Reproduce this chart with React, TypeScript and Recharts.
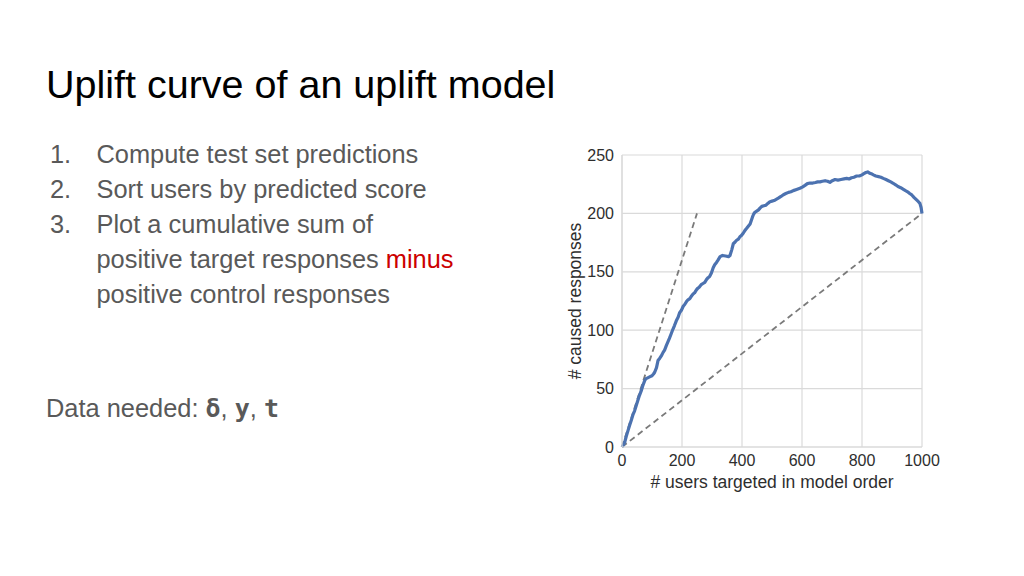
import React from 'react';
import { LineChart, Line, XAxis, YAxis, CartesianGrid } from 'recharts';

// Uplift curve (x = users targeted, y = caused responses)
const upliftX = [
  0, 5, 9, 14, 20, 26, 31, 37, 42, 48, 53, 58, 64, 70, 76, 80, 84, 92, 100, 105, 109,
  115, 120, 126, 131, 137, 142, 148, 153, 158, 164, 170, 175, 181, 187, 192, 198, 204,
  209, 215, 220, 226, 231, 237, 242, 248, 253, 258, 264, 270, 276, 282, 287, 292, 298,
  304, 309, 315, 320, 327, 335, 345, 355, 360, 366, 371, 377, 382, 388, 393, 398, 404,
  410, 415, 421, 427, 431, 435, 439, 443, 449, 455, 460, 466, 473, 480, 486, 493, 500,
  507, 514, 521, 530, 538, 546, 555, 563, 571, 582, 593, 601, 610, 618, 627, 636, 645,
  652, 660, 668, 677, 685, 693, 701, 710, 720, 730, 740, 749, 757, 765, 773, 782, 791,
  800, 806, 813, 819, 825, 831, 838, 846, 855, 863, 871, 880, 888, 896, 904, 912, 920,
  929, 938, 945, 952, 959, 966, 974, 982, 988, 993, 997, 1000,
];
const upliftY = [
  0, 2, 4, 9, 14, 19, 23, 28, 31, 36, 40, 44, 48, 53, 57, 58.5, 59, 60, 61, 62.5, 64,
  68, 74, 76, 78, 81, 83, 87, 90, 93, 97, 101, 104, 108, 111, 115, 117, 120.5,
  122, 124.5, 126, 127, 129, 131, 132, 134.5, 136, 137, 139, 140, 141, 143.5, 145, 146, 149,
  153.5, 156, 158, 160, 163, 164, 163.5, 163, 164, 169, 174, 175.5, 177, 178, 180, 181, 183,
  185.5, 187, 189, 191, 194, 197, 199.5, 201, 202, 203, 204.5, 206, 206.5, 207, 208.5, 210, 210.5,
  211, 212, 213, 214.5, 216, 217, 218, 218.5, 219.5, 220.5, 221.5, 222.5, 224, 225.5, 226, 226, 226.5,
  227, 227, 227.5, 228, 227.5, 226.6, 228, 229, 228.5, 229, 229.5, 230, 229.5, 230.5, 231, 232, 232,
  233, 234, 235, 235.5, 234.5, 234, 233, 232, 231.5, 231, 230, 229, 228, 227, 225.8, 224.5, 223,
  222, 220.6, 219.5, 218.5, 217, 215.8, 213.5, 211.5, 210, 208.6, 205, 200,
];

// reference lines: perfect model and random targeting
const perfectX = [0, 250];
const perfectY = [0, 200];
const randomX = [0, 1000];
const randomY = [0, 200];

const xTicks = [0, 200, 400, 600, 800, 1000];
const yTicks = [0, 50, 100, 150, 200, 250];

const toRows = (xs: number[], ys: number[]) => xs.map((x, i) => ({ x, y: ys[i] }));

const upliftData = toRows(upliftX, upliftY);
const perfectData = toRows(perfectX, perfectY);
const randomData = toRows(randomX, randomY);

const SANS = '"Liberation Sans", Arial, Helvetica, sans-serif';
const MONO = '"DejaVu Sans Mono", "Liberation Mono", monospace';
const GRID = '#dadada';
const TEXT = '#2e2e2e';

function UpliftChart() {
  return (
    <LineChart
      width={380}
      height={360}
      margin={{ top: 15, right: 18, left: 0, bottom: 0 }}
      style={{ fontFamily: SANS }}
    >
      <CartesianGrid stroke={GRID} strokeWidth={1.2} />
      <XAxis
        type="number"
        dataKey="x"
        domain={[0, 1000]}
        ticks={xTicks}
        height={53}
        tickLine={false}
        axisLine={{ stroke: GRID, strokeWidth: 1.2 }}
        tick={{ fontSize: 16, fill: TEXT }}
        label={{
          content: ({ viewBox }: any) => (
            <text
              x={viewBox.x + viewBox.width / 2}
              y={viewBox.y + 41}
              textAnchor="middle"
              fontSize={17.5}
              fill={TEXT}
            >
              # users targeted in model order
            </text>
          ),
        }}
      />
      <YAxis
        type="number"
        domain={[0, 250]}
        ticks={yTicks}
        width={62}
        tickLine={false}
        axisLine={{ stroke: GRID, strokeWidth: 1.2 }}
        tick={{ fontSize: 16, fill: TEXT }}
        label={{
          content: ({ viewBox }: any) => {
            const cx = viewBox.x + 21;
            const cy = viewBox.y + viewBox.height / 2;
            return (
              <text
                x={cx}
                y={cy}
                transform={`rotate(-90, ${cx}, ${cy})`}
                textAnchor="middle"
                fontSize={17.5}
                fill={TEXT}
              >
                # caused responses
              </text>
            );
          },
        }}
      />
      <Line
        data={perfectData}
        dataKey="y"
        stroke="#7a7a7a"
        strokeWidth={1.8}
        strokeDasharray="6 4"
        dot={false}
        isAnimationActive={false}
      />
      <Line
        data={randomData}
        dataKey="y"
        stroke="#7a7a7a"
        strokeWidth={1.8}
        strokeDasharray="6 4"
        dot={false}
        isAnimationActive={false}
      />
      <Line
        data={upliftData}
        dataKey="y"
        stroke="#4c72b0"
        strokeWidth={3.2}
        strokeLinejoin="round"
        dot={false}
        isAnimationActive={false}
      />
    </LineChart>
  );
}

export default function App() {
  const row = (top: number, left: number, content: React.ReactNode) => (
    <div style={{ position: 'absolute', left, top, lineHeight: '35px' }}>{content}</div>
  );
  const numbered = (n: string, top: number, text: string) =>
    row(
      top,
      50,
      <>
        <span style={{ display: 'inline-block', width: 46.5 }}>{n}</span>
        {text}
      </>
    );
  const code = (s: string) => (
    <b style={{ fontFamily: MONO, fontSize: 25 }}>{s}</b>
  );

  return (
    <div
      style={{
        position: 'absolute',
        left: 0,
        top: 0,
        width: 1024,
        height: 576,
        background: '#ffffff',
        fontFamily: SANS,
        overflow: 'hidden',
      }}
    >
      <div
        style={{
          position: 'absolute',
          left: 46,
          top: 62,
          fontSize: 39.5,
          lineHeight: '44px',
          color: '#000000',
          whiteSpace: 'nowrap',
        }}
      >
        Uplift curve of an uplift model
      </div>

      <div style={{ fontSize: 25.4, color: '#595959', whiteSpace: 'nowrap' }}>
        {numbered('1.', 137, 'Compute test set predictions')}
        {numbered('2.', 172, 'Sort users by predicted score')}
        {numbered('3.', 207, 'Plot a cumulative sum of')}
        {row(
          242,
          96.5,
          <>
            positive target responses <span style={{ color: '#cc0000' }}>minus</span>
          </>
        )}
        {row(277, 96.5, 'positive control responses')}
        {row(
          391,
          46,
          <>
            Data needed: {code('δ')}, {code('y')}, {code('t')}
          </>
        )}
      </div>

      <div style={{ position: 'absolute', left: 560, top: 140 }}>
        <UpliftChart />
      </div>
    </div>
  );
}
